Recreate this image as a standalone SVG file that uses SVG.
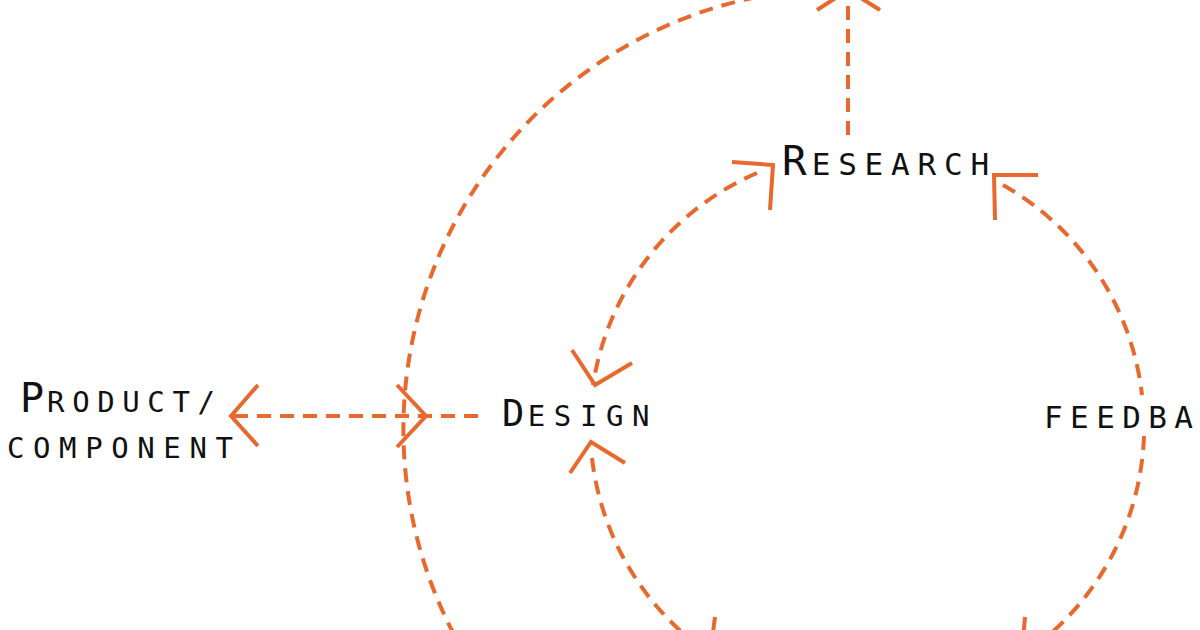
<svg xmlns="http://www.w3.org/2000/svg" width="1200" height="630" viewBox="0 0 1200 630">
<style>
.lbl{font-family:"DejaVu Sans Mono","Liberation Mono",monospace;fill:#111111}
.dash{fill:none;stroke:#E8692D;stroke-width:4;stroke-dasharray:14 9}
.head{fill:none;stroke:#E8692D;stroke-width:4;stroke-linecap:butt;stroke-linejoin:miter}
</style>
<rect width="1200" height="630" fill="#ffffff"/>
<g id="connectors">
  <path class="dash" d="M848,135 L848,-4"/>
  <polyline class="head" points="817,10 848,-10 880,10"/>
  <path class="dash" d="M780,-7 A441 441 0 0 0 457,640"/>
  <path class="dash" d="M478,416 L233,416"/>
  <polyline class="head" points="258,385 231,416 258,446"/>
  <polyline class="head" points="397,385 426,416 397,447"/>
  <path class="dash" d="M757,173 A277 277 0 0 0 593,385"/>
  <polyline class="head" points="732,162 773,165 770,210"/>
  <polyline class="head" points="572,350 595,385 632,363"/>
  <path class="dash" d="M592,458 A277 277 0 0 0 708,653"/>
  <polyline class="head" points="570,473 591,442 625,463"/>
  <polyline class="head" points="715,617 712,640"/>
  <path class="dash" d="M1003,185 A277 277 0 0 1 1142,395"/>
  <path class="dash" d="M1144,436 A277 277 0 0 1 1026,653"/>
  <polyline class="head" points="1038,175 994,175 995,220"/>
  <polyline class="head" points="1025,617 1023,640"/>
</g>
<g id="node-research"><text class="lbl" x="782" y="175"><tspan font-size="41" letter-spacing="5">R</tspan><tspan font-size="31" letter-spacing="7.8">ESEARCH</tspan></text></g>
<g id="node-design"><text class="lbl" x="502" y="426"><tspan font-size="37" letter-spacing="3.5">D</tspan><tspan font-size="29" letter-spacing="8.6">ESIGN</tspan></text></g>
<g id="node-product">
  <text class="lbl" x="20" y="412"><tspan font-size="40" letter-spacing="3">P</tspan><tspan font-size="29" letter-spacing="7.6">RODUCT/</tspan></text>
  <text class="lbl" x="7" y="458" font-size="29" letter-spacing="8.6">COMPONENT</text>
</g>
<g id="label-feedback"><text class="lbl" x="1044" y="428" font-size="31" letter-spacing="7.4">FEEDBA</text></g>
</svg>
